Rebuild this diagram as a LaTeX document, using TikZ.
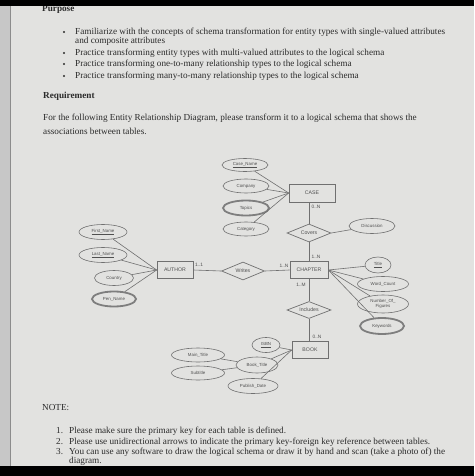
\documentclass[tikz,border=0pt]{standalone}
\usepackage{fontspec}
\setmainfont{Liberation Serif}
\setsansfont{Liberation Sans}
\usetikzlibrary{shapes.geometric}
\definecolor{paper}{HTML}{E2E2E0}
\definecolor{txt}{HTML}{2A2A2A}
\definecolor{ln}{HTML}{707070}
\definecolor{lbl}{HTML}{505050}
\begin{document}
\begin{tikzpicture}[x=1pt,y=-1pt,
  body/.style={anchor=base west, inner sep=0, font=\fontsize{9.2}{10}\selectfont, text=txt},
  dot/.style={circle, fill=txt, inner sep=0, minimum size=2.4pt},
  attr/.style 2 args={ellipse, draw=ln, line width=0.6pt, inner sep=0, minimum width=#1, minimum height=#2, text=lbl, font=\sffamily\fontsize{4.4}{4.8}\selectfont, align=center},
  multi/.style={line width=1.8pt, draw=ln!90},
  entity/.style 2 args={rectangle, draw=ln, line width=0.7pt, inner sep=0, minimum width=#1, minimum height=#2, text=lbl, font=\sffamily\fontsize{5.2}{6}\selectfont},
  rel/.style 2 args={diamond, draw=ln, line width=0.7pt, inner sep=0, minimum width=#1, minimum height=#2, aspect=2.4, text=lbl, font=\sffamily\fontsize{5.2}{6}\selectfont},
  card/.style={inner sep=0, text=lbl, font=\sffamily\fontsize{4.8}{5}\selectfont},
  conn/.style={draw=ln, line width=0.6pt}]
\useasboundingbox (0,0) rectangle (474,476);
\fill[paper] (0,0) rectangle (474,476);
\fill[black!22] (0,0) rectangle (10,476);
\draw[black!45, line width=0.5pt] (10,0) -- (10,476);

% text
\node[body] (pur) at (42,12) {\textbf{Purpose}};
\node[dot] (b1) at (64,32) {};
\node[dot] (b2) at (64,53) {};
\node[dot] (b3) at (64,64) {};
\node[dot] (b4) at (64,76) {};
\node[body] (l1) at (75,35) {Familiarize with the concepts of schema transformation for entity types with single-valued attributes};
\node[body] (l1b) at (75,44) {and composite attributes};
\node[body] (l2) at (75,56) {Practice transforming entity types with multi-valued attributes to the logical schema};
\node[body] (l3) at (75,67) {Practice transforming one-to-many relationship types to the logical schema};
\node[body] (l4) at (75,79) {Practice transforming many-to-many relationship types to the logical schema};
\node[body] (req) at (43,99) {\textbf{Requirement}};
\node[body] (r1) at (43,121) {For the following Entity Relationship Diagram, please transform it to a logical schema that shows the};
\node[body] (r2) at (43,135) {associations between tables.};

\node[body] (note) at (42,410) {NOTE:};
\node[body] (n1) at (56,433) {1.};
\node[body] (n2) at (56,444) {2.};
\node[body] (n3) at (56,454) {3.};
\node[body] (t1) at (69,433) {Please make sure the primary key for each table is defined.};
\node[body] (t2) at (69,444) {Please use unidirectional arrows to indicate the primary key-foreign key reference between tables.};
\node[body] (t3) at (69,454) {You can use any software to draw the logical schema or draw it by hand and scan (take a photo of) the};
\node[body] (t3b) at (69,463) {diagram.};

% ER diagram
\node[entity={46}{18}] (case) at (312,193) {CASE};
\node[entity={38}{17}] (chapter) at (309,270) {CHAPTER};
\node[entity={36}{17}] (author) at (175,270) {AUTHOR};
\node[entity={36}{17}] (book) at (310,350) {BOOK};

\node[rel={44}{18}] (covers) at (309,233) {Covers};
\node[rel={43}{18}] (writes) at (243,271) {Writes};
\node[rel={44}{17}] (includes) at (309,310) {Includes};

\node[attr={46}{13}] (casename) at (245,165) {\underline{Case\_Name}};
\node[attr={46}{14}] (company) at (246,186) {Company};
\node[attr={46}{15}, multi] (topics) at (246,208) {Topics};
\node[attr={46}{14}] (category) at (246,229) {Category};
\node[attr={46}{15}] (discussion) at (372,226) {Discussion};

\node[attr={48}{15}] (first) at (103,232) {\underline{First\_Name}};
\node[attr={48}{15}] (last) at (103,255) {\underline{Last\_Name}};
\node[attr={39}{15}] (country) at (114,278) {Country};
\node[attr={44}{15}, multi] (pen) at (114,299) {Pen\_Name};

\node[attr={26}{16}] (title) at (378,265) {\underline{Title}};
\node[attr={51}{15}] (wordcount) at (383,284) {Word\_Count};
\node[attr={51}{18}] (numfig) at (383,304) {Number\_Of\_\\Figures};
\node[attr={44}{16}, multi] (keywords) at (382,326) {Keywords};

\node[attr={28}{15}] (isbn) at (266,345) {\underline{ISBN}};
\node[attr={42}{16}] (booktitle) at (257,365) {Book\_Title};
\node[attr={53}{14}] (maintitle) at (198,355) {Main\_Title};
\node[attr={53}{14}] (subtitle) at (198,373) {Subtitle};
\node[attr={50}{15}] (publish) at (253,386) {Publish\_Date};

% cardinalities
\node[card] (c1) at (316,207) {0..N};
\node[card] (c2) at (316,257) {1..N};
\node[card] (c3) at (301,285) {1..M};
\node[card] (c4) at (317,337) {0..N};
\node[card] (c5) at (199,265) {1..1};
\node[card] (c6) at (284,266) {1..N};

% connectors
\draw[conn] (case.south -| covers.north) -- (covers.north);
\draw[conn] (covers.south) -- (chapter.north -| covers.south);
\draw[conn] (covers.east) -- (discussion);
\draw[conn] (chapter.south) -- (includes.north);
\draw[conn] (includes.south) -- (book.north -| includes.south);
\draw[conn] (author.east) -- (writes.west);
\draw[conn] (writes.east) -- (chapter.west);

\foreach \a in {casename,company,topics,category}
  \draw[conn] (\a) -- (case.west);
\foreach \a in {first,last,country,pen}
  \draw[conn] (\a) -- (author.west);
\foreach \a in {title,wordcount,numfig,keywords}
  \draw[conn] (\a) -- (chapter.east);
\foreach \a in {isbn,booktitle,publish}
  \draw[conn] (\a) -- (book.west);
\draw[conn] (maintitle) -- (booktitle);
\draw[conn] (subtitle) -- (booktitle);

% photo borders
\fill[black] (0,0) rectangle (474,6.5);
\fill[black] (0,466) rectangle (474,476);
\end{tikzpicture}
\end{document}
